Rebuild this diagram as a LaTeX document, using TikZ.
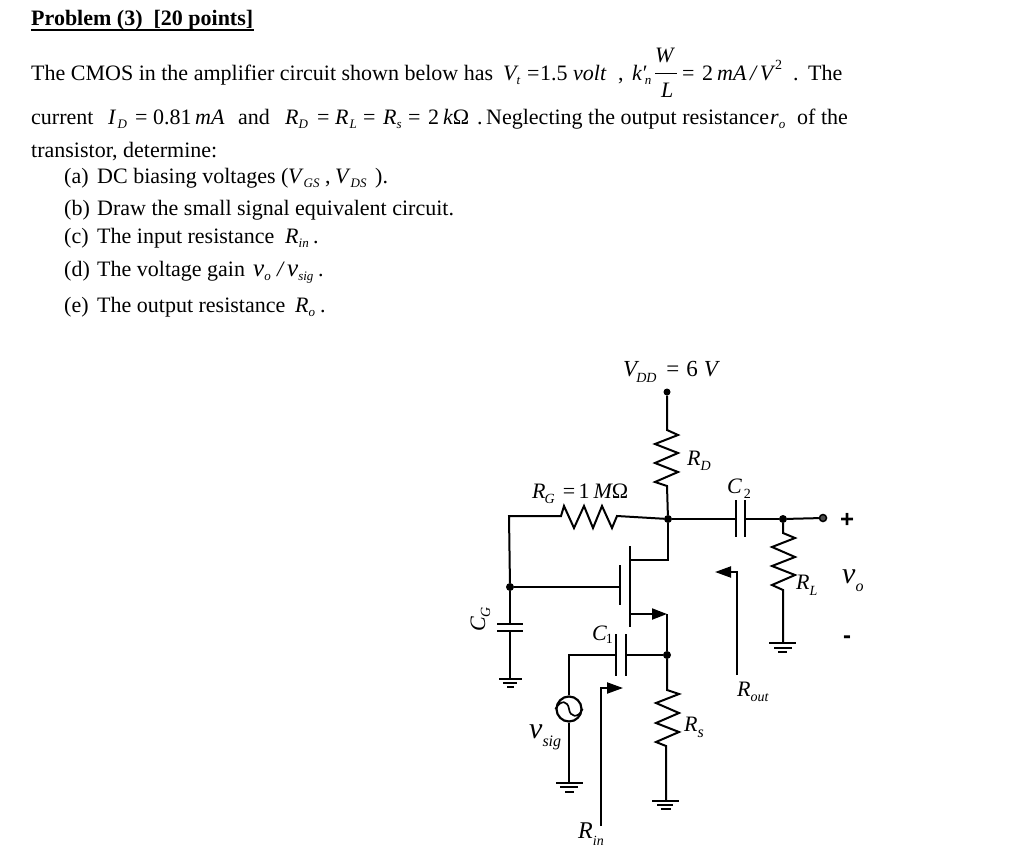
\documentclass[tikz,border=0pt]{standalone}
\usepackage{fontspec}
\setmainfont{Liberation Serif}
\newfontfamily\labsans{Liberation Sans}
\usetikzlibrary{arrows.meta}
\newcommand{\dn}[2][5pt]{\raisebox{-#1}{\fontsize{14}{14}\selectfont #2}}
\newcommand{\dnb}[2][6pt]{\raisebox{-#1}{\fontsize{16}{16}\selectfont #2}}
\newcommand{\tdn}[2][4pt]{\raisebox{-#1}{\fontsize{13}{13}\selectfont\itshape #2}}
\tikzset{
  x=1pt,y=-1pt,
  wire/.style={line width=2pt,line join=miter},
  plate/.style={line width=2.2pt},
  gnd/.style={line width=2.2pt},
  arrowwire/.style={wire,-{Triangle[length=15pt,width=11pt]}},
  arrowwireb/.style={wire,-{Triangle[length=16pt,width=11pt]}},
  dot/.style={circle,fill=black,inner sep=0pt,minimum size=8pt},
  odot/.style={circle,fill=black!70,draw=black,line width=1.5pt,inner sep=0pt,minimum size=7pt},
  body/.style={anchor=base west,inner sep=0pt,font=\fontsize{22}{22}\selectfont},
  mth/.style={body,font=\fontsize{22}{22}\selectfont\itshape},
  mthv/.style={body,font=\fontsize{25}{25}\selectfont\itshape},
  lab/.style={anchor=base west,inner sep=0pt,font=\fontsize{22}{22}\selectfont\itshape},
  srcnode/.style={circle,draw=black,line width=2.2pt,inner sep=0pt,minimum size=25pt},
}
\begin{document}
\begin{tikzpicture}
\useasboundingbox (0,0) rectangle (1024,867);
% ---------- text ----------
\node[body,font=\fontsize{22}{22}\selectfont\bfseries] (title) at (31,26) {Problem (3)\ \ [20 points]};
\coordinate (ulL) at (31,30); \coordinate (ulR) at (254,30);
\draw[line width=1.4pt] (ulL) -- (ulR);
\node[body] (l1) at (31,80) {The CMOS in the amplifier circuit shown below has};
\node[mth] (l1a) at (503,80) {V\tdn{t}};
\node[body] (l1b) at (527,80) {=};
\node[body] (l1b2) at (540,80) {1.5};
\node[mth] (l1c) at (573,80) {volt};
\node[body] (l1d) at (618,80) {,};
\node[mth] (l1e) at (632,80) {k\kern1pt{\upshape\char"2032}\kern-3pt\tdn{n}};
\node[mth] (fW) at (655,63) {W};
\node[mth] (fL) at (661,97) {L};
\coordinate (fa) at (655,73); \coordinate (fb) at (677,73);
\draw[line width=1pt] (fa) -- (fb);
\node[body] (l1f) at (682,80) {=};
\node[body] (l1f2) at (702,80) {2};
\node[mth] (l1g) at (717,80) {mA\,/\,V};
\node[body,font=\fontsize{14}{14}\selectfont] (l1h) at (775,70) {2};
\node[body] (l1i) at (793,80) {.};
\node[body] (l1j) at (808,80) {The};
\node[body] (l2) at (31,124) {current};
\node[mth] (l2a) at (108,124) {I\kern2pt\tdn{D}};
\node[body] (l2b) at (135,124) {=};
\node[body] (l2b2) at (153,124) {0.81};
\node[mth] (l2c) at (195,124) {mA};
\node[body] (l2d) at (238,124) {and};
\node[mth] (l2e) at (285,124) {R\tdn{D}};
\node[body] (l2f) at (317,124) {=};
\node[mth] (l2g) at (335,124) {R\kern1pt\tdn{L}};
\node[body] (l2h) at (363,124) {=};
\node[mth] (l2i) at (383,124) {R\tdn{s}};
\node[body] (l2j) at (408,124) {=};
\node[body] (l2j2) at (428,124) {2};
\node[mth] (l2k) at (443,124) {k{\upshape Ω}};
\node[body] (l2l) at (477,124) {.};
\node[body] (l2l2) at (486,124) {Neglecting the output resistance};
\node[mth] (l2m) at (770,124) {r\tdn{o}};
\node[body] (l2n) at (797,124) {of the};
\node[body] (l3) at (31,157) {transistor, determine:};
\node[body] (a0) at (64,183) {(a)};
\node[body] (a1) at (97,183) {DC biasing voltages (};
\node[mth] (a2) at (288,183) {V\kern2pt\tdn{GS}};
\node[body] (a3) at (325,183) {,};
\node[mth] (a4) at (335,183) {V\kern2pt\tdn{DS}};
\node[body] (a5) at (375,183) {).};
\node[body] (b0) at (64,215) {(b)};
\node[body] (b1) at (97,215) {Draw the small signal equivalent circuit.};
\node[body] (c0) at (64,243) {(c)};
\node[body] (c1) at (97,243) {The input resistance};
\node[mth] (c2) at (285,243) {R\tdn{in}};
\node[body] (c3) at (313,243) {.};
\node[body] (d0) at (64,276) {(d)};
\node[body] (d1) at (97,276) {The voltage gain};
\node[mthv] (d2) at (253,276) {v\tdn{o}};
\node[mth] (d2b) at (277,276) {/};
\node[mthv] (d2c) at (287,276) {v\tdn{sig}};
\node[body] (d3) at (318,276) {.};
\node[body] (e0) at (64,312) {(e)};
\node[body] (e1) at (97,312) {The output resistance};
\node[mth] (e2) at (295,312) {R\tdn{o}};
\node[body] (e3) at (320,312) {.};
% ---------- circuit points ----------
\node[dot,minimum size=7pt] (vdd) at (667,392) {};
\node[dot] (jd) at (668,519) {};
\node[dot] (jg) at (510,587) {};
\node[dot] (js) at (667,655) {};
\node[dot] (jl) at (783,519) {};
\node[odot] (out) at (823,518) {};
\node[srcnode] (src) at (569,709) {};
\coordinate (rdtop) at (667,430); \coordinate (rdbot) at (667,486);
\coordinate (rgL) at (561,516); \coordinate (rgR) at (617,516); \coordinate (tl) at (509,516);
\coordinate (cgT) at (510,624); \coordinate (cgB) at (510,631); \coordinate (gndG) at (510,679);
\coordinate (gate) at (620,587);
\coordinate (chD) at (630,560); \coordinate (drn) at (668,560);
\coordinate (chS) at (630,614); \coordinate (srcT) at (667,614);
\coordinate (c1L) at (616,655); \coordinate (c1R) at (626,655); \coordinate (vsT) at (569,655);
\coordinate (rsT) at (667,690); \coordinate (rsB) at (666,746); \coordinate (gndS) at (666,801);
\coordinate (gndV) at (569,783);
\coordinate (c2L) at (736,519); \coordinate (c2R) at (745,519);
\coordinate (rlT) at (783,533); \coordinate (rlB) at (783,590); \coordinate (gndL) at (783,643);
\coordinate (rinS) at (601,826); \coordinate (rinC) at (601,688); \coordinate (rinE) at (623,688);
\coordinate (routS) at (737,675); \coordinate (routC) at (737,572); \coordinate (routE) at (715,572);
% ---------- wires ----------
\draw[wire] (vdd) -- (rdtop) -- ++(11,5) -- ++(-23,9) -- ++(23,9) -- ++(-23,10) -- ++(23,9) -- ++(-23,10) -- (rdbot) -- (jd);
\draw[wire] (jg) -- (tl) -- (rgL) -- (564,506) -- (574,528) -- (584,506) -- (593,528) -- (602,506) -- (612,528) -- (rgR) -- (jd);
\draw[wire] (jg) -- (cgT);
\draw[wire] (cgB) -- (gndG);
\draw[wire] (jg) -- (gate);
\draw[wire] (chD) -- (drn) -- (jd);
\draw[arrowwire] (chS) -- (srcT);
\draw[wire] (srcT) -- (js);
\draw[wire] (js) -- (rsT) -- ++(12,4) -- ++(-23,9) -- ++(23,10) -- ++(-23,10) -- ++(23,9) -- ++(-23,10) -- (rsB) -- (gndS);
\draw[wire] (js) -- (c1R);
\draw[wire] (c1L) -- (vsT) -- (src);
\draw[wire] (src) -- (gndV);
\draw[wire] (jd) -- (c2L);
\draw[wire] (c2R) -- (jl);
\draw[wire] (jl) -- (out);
\draw[wire] (jl) -- (rlT) -- ++(12,5) -- ++(-23,9) -- ++(23,10) -- ++(-23,9) -- ++(23,9) -- ++(-23,10) -- (rlB) -- (gndL);
\draw[arrowwireb] (rinS) -- (rinC) -- (rinE);
\draw[arrowwireb] (routS) -- (routC) -- (routE);
% ---------- plates ----------
\draw[plate] (497,624) -- (523,624);
\draw[plate] (497,631) -- (523,631);
\draw[line width=2.4pt] (620,565) -- (620,605);
\draw[line width=2.8pt] (630,546) -- (630,627);
\draw[plate] (616,634) -- (616,676);
\draw[plate] (626,634) -- (626,676);
\draw[plate] (736,500) -- (736,537);
\draw[plate] (745,500) -- (745,537);
% ---------- grounds ----------
\draw[gnd] (499,679) -- (522,679); \draw[gnd] (503,683) -- (517,683); \draw[gnd] (507,687) -- (514,687);
\draw[gnd] (652,801) -- (679,801); \draw[gnd] (657,805) -- (673,805); \draw[gnd] (661,809) -- (671,809);
\draw[gnd] (556,783) -- (583,783); \draw[gnd] (560,787) -- (578,787); \draw[gnd] (565,792) -- (574,792);
\draw[gnd] (769,643) -- (796,643); \draw[gnd] (774,648) -- (792,648); \draw[gnd] (778,652) -- (787,652);
% source sine
\draw[line width=1.7pt] (src.west) .. controls (561,699) and (568,701) .. (569,709) .. controls (570,717) and (578,719) .. (src.east);
% ---------- labels ----------
\node[lab,font=\fontsize{23}{23}\selectfont\itshape] (lvdd) at (623,376) {V\kern-1pt\dn[6pt]{DD}\hspace{10pt}{\upshape =}\hspace{7pt}{\upshape 6}\hspace{6pt}V};
\node[lab] (lrd) at (687,465) {R\dn{D}};
\node[lab] (lrg) at (532,498) {R\kern-1pt\dn{G}\hspace{8pt}{\upshape =}\hspace{3.5pt}{\upshape 1}\hspace{4pt}M{\upshape Ω}};
\node[lab] (lc2) at (727,493) {C\kern2pt{\upshape\dn{2}}};
\node[anchor=center,inner sep=0pt,font=\labsans\fontsize{24}{24}\selectfont\bfseries] (lp) at (847,520) {+};
\node[anchor=center,inner sep=0pt,font=\labsans\fontsize{24}{24}\selectfont\bfseries] (lm) at (847,640) {-};
\node[lab,font=\fontsize{30}{30}\selectfont\itshape] (lvo) at (842,583) {v\dnb[8pt]{o}};
\node[lab] (lrl) at (796,589) {R\dn[6pt]{L}};
\node[lab] (lrout) at (737,696) {R\dn{out}};
\node[lab] (lrs) at (684,731) {R\dnb{s}};
\node[lab,font=\fontsize{24}{24}\selectfont\itshape] (lrin) at (578,838) {R\dn[7pt]{in}};
\node[lab,font=\fontsize{30}{30}\selectfont\itshape] (lvs) at (529,738) {v\dnb[8pt]{sig}};
\node[lab] (lc1) at (592,640) {C\kern-1pt{\upshape\dn[3pt]{1}}};
\node[lab,rotate=90] (lcg) at (485,632) {C\dn{G}};
\end{tikzpicture}
\end{document}
